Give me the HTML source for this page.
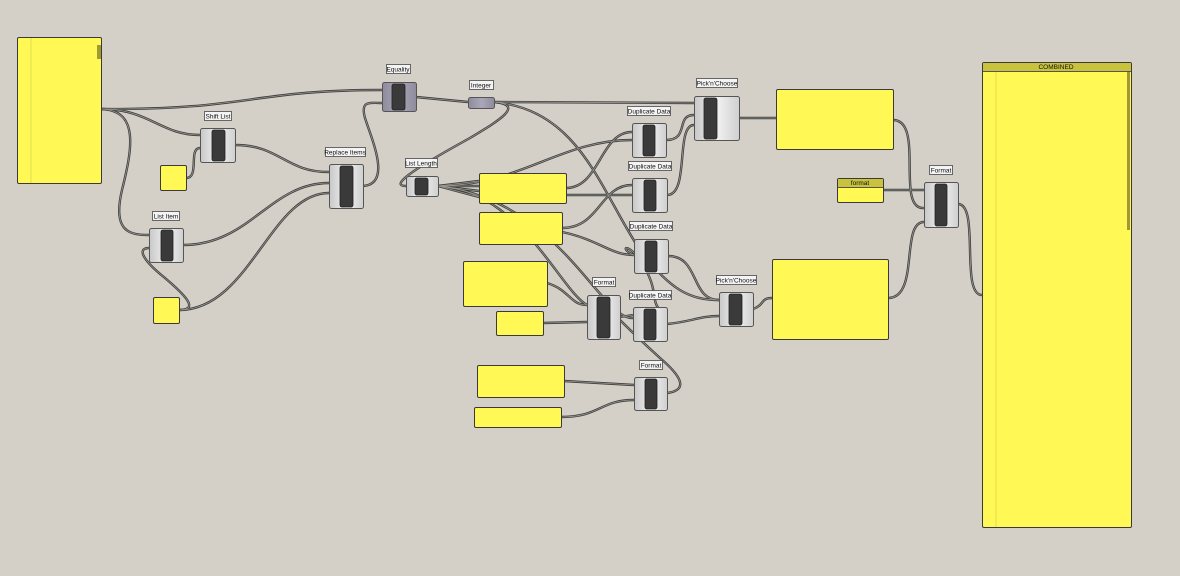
<!DOCTYPE html>
<html><head><meta charset="utf-8"><style>
html,body{margin:0;padding:0;background:#d4d0c8;}
svg{display:block}
text{font-family:"Liberation Sans",sans-serif;font-size:6.5px;fill:#111}
</style></head><body>
<svg width="1180" height="576" viewBox="0 0 1180 576" xmlns="http://www.w3.org/2000/svg">
<defs>
<linearGradient id="g" x1="0" x2="1" y1="0" y2="0">
<stop offset="0" stop-color="#c8c8c8"/><stop offset="0.5" stop-color="#f2f2f2"/><stop offset="1" stop-color="#cfcfcf"/></linearGradient>
<linearGradient id="gp" x1="0" x2="1"><stop offset="0" stop-color="#8e8c9c"/><stop offset="0.5" stop-color="#aaa8b8"/><stop offset="1" stop-color="#8e8c9c"/></linearGradient>
<g id="wires" fill="none">
<path d="M101,109 C250,110 250,90 382,90"/>
<path d="M101,109 C150,109 160,135 200,135"/>
<path d="M101,109 C140,110 132,150 122,190 C112,232 130,235 149,235"/>
<path d="M186,178 C200,178 188,148 200,148"/>
<path d="M235,145 C280,145 285,172 329,172"/>
<path d="M183,245 C250,245 270,183 329,183"/>
<path d="M179,310 C250,310 270,193 329,193"/>
<path d="M179,310 C200,310 185,295 165,278 C140,258 138,248 149,248"/>
<path d="M363,186 C392,184 372,140 365,118 C360,100 370,103 382,103"/>
<path d="M416,97 L468,102"/>
<path d="M494,102 L694,103"/>
<path d="M494,102 C525,105 500,120 470,138 C430,160 385,186 406,186"/>
<path d="M494,102 C580,110 600,190 640,250 C670,290 690,300 719,300"/>
<path d="M438,186 L479,181 M438,186 L479,186 M438,186 L479,191 M438,186 L479,197"/>
<path d="M438,186 C520,186 560,140 632,140"/>
<path d="M438,186 C520,190 560,290 587,305"/>
<path d="M438,186 C560,200 600,320 633,318"/>
<path d="M566,188 C600,188 600,132 632,132"/>
<path d="M566,195 L632,195"/>
<path d="M562,228 C600,228 600,185 632,185"/>
<path d="M562,232 C600,240 610,255 634,255"/>
<path d="M666,140 C690,140 675,115 694,115"/>
<path d="M667,195 C690,195 675,125 694,125"/>
<path d="M739,118 L776,118"/>
<path d="M668,256 C700,256 690,300 719,300"/>
<path d="M667,324 C690,322 700,316 719,316"/>
<path d="M753,309 C765,305 760,298 772,298"/>
<path d="M547,283 C570,290 570,305 587,305"/>
<path d="M543,323 L587,322"/>
<path d="M620,317 L633,315"/>
<path d="M564,381 L634,385"/>
<path d="M561,417 C600,417 600,400 634,400"/>
<path d="M667,393 C690,390 680,375 660,358 C640,340 630,330 620,320"/>
<path d="M634,255 C620,250 625,240 640,260 C660,290 650,300 660,310"/>
<path d="M893,120 C925,120 895,210 924,208"/>
<path d="M883,190 L924,190"/>
<path d="M888,298 C920,298 900,222 924,222"/>
<path d="M958,204 C980,204 960,295 982,295"/>
</g>
</defs>
<rect width="1180" height="576" fill="#d4d0c8"/>
<use href="#wires" stroke="#3e3e3e" stroke-width="2.4"/>
<use href="#wires" stroke="#9a9890" stroke-width="0.8"/>
<!-- panels -->
<g stroke="#3a3a3a" stroke-width="1" fill="#fff855">
<rect x="17.5" y="37.5" width="84" height="146" rx="1.5"/>
<rect x="160.5" y="165.5" width="26" height="25" rx="1.5"/>
<rect x="153.5" y="297.5" width="26" height="26" rx="1.5"/>
<rect x="479.5" y="173.5" width="87" height="30" rx="1.5"/>
<rect x="479.5" y="212.5" width="83" height="32" rx="1.5"/>
<rect x="463.5" y="261.5" width="84" height="45" rx="1.5"/>
<rect x="496.5" y="311.5" width="47" height="24" rx="1.5"/>
<rect x="477.5" y="365.5" width="87" height="32" rx="1.5"/>
<rect x="474.5" y="407.5" width="87" height="20" rx="1.5"/>
<rect x="776.5" y="89.5" width="117" height="60" rx="1.5"/>
<rect x="772.5" y="259.5" width="116" height="80" rx="1.5"/>
<rect x="837.5" y="178.5" width="46" height="24" rx="1.5"/>
<rect x="982.5" y="62.5" width="149" height="465" rx="1.5"/>
</g>
<rect x="838" y="179" width="45" height="8" fill="#c9c23c"/>
<line x1="838" y1="187.5" x2="883" y2="187.5" stroke="#555"/>
<text x="860" y="185" text-anchor="middle" font-size="5.5">format</text>
<rect x="983" y="63" width="148" height="8" fill="#c9c23c"/>
<line x1="983" y1="71.5" x2="1131" y2="71.5" stroke="#555"/>
<text x="1056" y="69" text-anchor="middle" font-size="5.5">COMBINED</text>
<rect x="97" y="45" width="4" height="14" fill="#a09a30"/>
<rect x="1127" y="72" width="3" height="158" fill="#a09a30"/>
<line x1="31" y1="38" x2="31" y2="183" stroke="#d8d050" stroke-width="0.7"/>
<line x1="996" y1="72" x2="996" y2="527" stroke="#d8d050" stroke-width="0.7"/>
<!-- components -->
<g stroke="#555" stroke-width="1">
<rect x="382.5" y="82.5" width="34" height="29" rx="2" fill="url(#gp)"/>
<rect x="468.5" y="97.5" width="26" height="11" rx="2" fill="url(#gp)"/>
<rect x="200.5" y="128.5" width="35" height="34" rx="2" fill="url(#g)"/>
<rect x="329.5" y="164.5" width="34" height="44" rx="2" fill="url(#g)"/>
<rect x="406.5" y="176.5" width="32" height="20" rx="2" fill="url(#g)"/>
<rect x="149.5" y="228.5" width="34" height="34" rx="2" fill="url(#g)"/>
<rect x="694.5" y="96.5" width="45" height="44" rx="2" fill="url(#g)"/>
<rect x="632.5" y="123.5" width="34" height="34" rx="2" fill="url(#g)"/>
<rect x="632.5" y="178.5" width="35" height="34" rx="2" fill="url(#g)"/>
<rect x="634.5" y="239.5" width="34" height="34" rx="2" fill="url(#g)"/>
<rect x="587.5" y="295.5" width="33" height="44" rx="2" fill="url(#g)"/>
<rect x="633.5" y="307.5" width="34" height="34" rx="2" fill="url(#g)"/>
<rect x="719.5" y="292.5" width="34" height="34" rx="2" fill="url(#g)"/>
<rect x="634.5" y="377.5" width="33" height="33" rx="2" fill="url(#g)"/>
<rect x="924.5" y="182.5" width="34" height="45" rx="2" fill="url(#g)"/>
</g>
<g fill="#3a3a3a" stroke="#222" stroke-width="0.8">
<rect x="392" y="84" width="13" height="26" rx="2"/>
<rect x="212" y="130" width="13" height="31" rx="2"/>
<rect x="340" y="166" width="13" height="41" rx="2"/>
<rect x="415" y="178" width="13" height="17" rx="2"/>
<rect x="161" y="230" width="12" height="31" rx="2"/>
<rect x="704" y="98" width="13" height="41" rx="2"/>
<rect x="643" y="125" width="12" height="31" rx="2"/>
<rect x="644" y="180" width="12" height="31" rx="2"/>
<rect x="645" y="241" width="12" height="31" rx="2"/>
<rect x="597" y="297" width="13" height="41" rx="2"/>
<rect x="644" y="309" width="12" height="31" rx="2"/>
<rect x="729" y="294" width="13" height="31" rx="2"/>
<rect x="645" y="379" width="12" height="30" rx="2"/>
<rect x="935" y="184" width="12" height="42" rx="2"/>
</g>
<!-- labels -->
<g stroke="#333" stroke-width="0.7" fill="#f4f4f4">
<rect x="386.5" y="64.5" width="24" height="9"/>
<rect x="469.5" y="80.5" width="24" height="9"/>
<rect x="204.5" y="111.5" width="27" height="9"/>
<rect x="325.5" y="147.5" width="40" height="9"/>
<rect x="405.5" y="158.5" width="32" height="9"/>
<rect x="152.5" y="211.5" width="27" height="9"/>
<rect x="696.5" y="78.5" width="41" height="9"/>
<rect x="627.5" y="106.5" width="43" height="9"/>
<rect x="628.5" y="161.5" width="43" height="9"/>
<rect x="629.5" y="221.5" width="43" height="9"/>
<rect x="592.5" y="277.5" width="23" height="9"/>
<rect x="629.5" y="290.5" width="42" height="9"/>
<rect x="716.5" y="275.5" width="40" height="9"/>
<rect x="639.5" y="360.5" width="23" height="9"/>
<rect x="929.5" y="165.5" width="23" height="9"/>
</g>
<g>
<text x="398" y="71.5" text-anchor="middle">Equality</text>
<text x="481" y="87.5" text-anchor="middle">Integer</text>
<text x="218" y="118.5" text-anchor="middle">Shift List</text>
<text x="345" y="154.5" text-anchor="middle">Replace Items</text>
<text x="421" y="165.5" text-anchor="middle">List Length</text>
<text x="166" y="218.5" text-anchor="middle">List Item</text>
<text x="717" y="85.5" text-anchor="middle">Pick'n'Choose</text>
<text x="649" y="113.5" text-anchor="middle">Duplicate Data</text>
<text x="650" y="168.5" text-anchor="middle">Duplicate Data</text>
<text x="651" y="228.5" text-anchor="middle">Duplicate Data</text>
<text x="604" y="284.5" text-anchor="middle">Format</text>
<text x="650" y="297.5" text-anchor="middle">Duplicate Data</text>
<text x="736" y="282.5" text-anchor="middle">Pick'n'Choose</text>
<text x="651" y="367.5" text-anchor="middle">Format</text>
<text x="941" y="172.5" text-anchor="middle">Format</text>
</g>
</svg>
</body></html>
